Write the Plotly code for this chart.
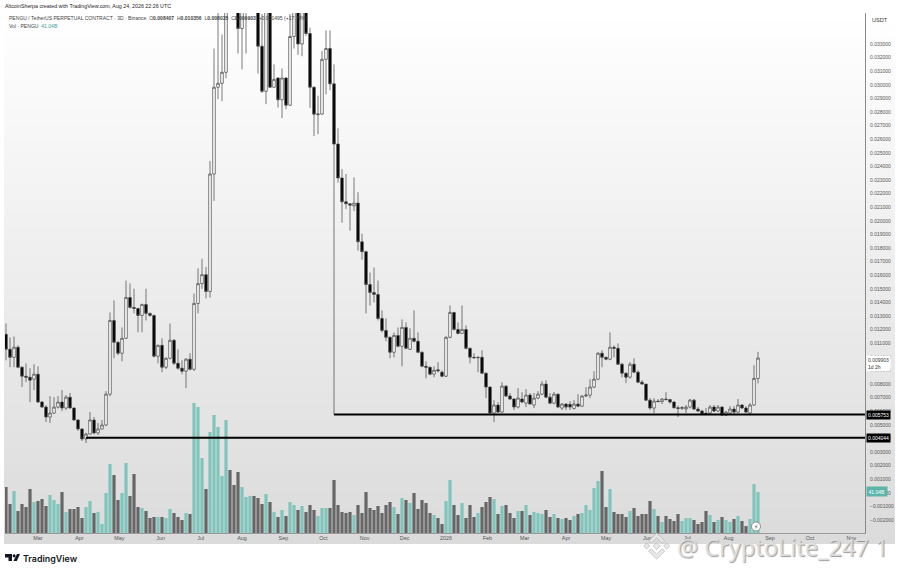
import pandas as pd
import plotly.graph_objects as go

opens = [
    0.01165, 0.01055, 0.00996, 0.01070, 0.00923, 0.00857, 0.00850, 0.00835, 0.00872, 0.00667,
    0.00630, 0.00557, 0.00586, 0.00630, 0.00667, 0.00623, 0.00703, 0.00623, 0.00535, 0.00469,
    0.00396, 0.00432, 0.00535, 0.00440, 0.00469, 0.00498, 0.00725, 0.01267, 0.01106, 0.01026,
    0.01136, 0.01436, 0.01363, 0.01355, 0.01304, 0.01385, 0.01319, 0.01304, 0.01004, 0.01084,
    0.00923, 0.00989, 0.01121, 0.00952, 0.00916, 0.00894, 0.00982, 0.00908, 0.01392, 0.01538,
    0.01604, 0.01480, 0.02344, 0.02982, 0.03011, 0.03092, 0.03750, 0.03700, 0.03640, 0.03414,
    0.03580, 0.03660, 0.03780, 0.03720, 0.03284, 0.02952, 0.03600, 0.02982, 0.03050, 0.02890,
    0.03050, 0.02850, 0.03355, 0.03650, 0.03300, 0.03620, 0.03377, 0.02982, 0.02780, 0.02785,
    0.03187, 0.03267, 0.03007, 0.02564, 0.02315, 0.02140, 0.02125, 0.02110, 0.02130, 0.01846,
    0.01773, 0.01531, 0.01473, 0.01458, 0.01282, 0.01194, 0.01143, 0.01033, 0.01157, 0.01077,
    0.01216, 0.01055, 0.01136, 0.01114, 0.01033, 0.00930, 0.00923, 0.00872, 0.00904, 0.00887,
    0.00857, 0.01143, 0.01326, 0.01201, 0.01172, 0.01201, 0.01062, 0.00996, 0.00993, 0.00996,
    0.00879, 0.00777, 0.00586, 0.00645, 0.00593, 0.00784, 0.00711, 0.00689, 0.00630, 0.00689,
    0.00659, 0.00718, 0.00645, 0.00696, 0.00725, 0.00799, 0.00703, 0.00659, 0.00725, 0.00623,
    0.00652, 0.00650, 0.00620, 0.00652, 0.00637, 0.00711, 0.00718, 0.00777, 0.00835, 0.01026,
    0.00996, 0.00982, 0.01070, 0.01062, 0.00945, 0.00879, 0.00850, 0.00945, 0.00887, 0.00813,
    0.00799, 0.00681, 0.00623, 0.00674, 0.00670, 0.00689, 0.00685, 0.00667, 0.00625, 0.00620,
    0.00616, 0.00630, 0.00681, 0.00615, 0.00601, 0.00585, 0.00586, 0.00630, 0.00601, 0.00630,
    0.00571, 0.00586, 0.00615, 0.00593, 0.00645, 0.00623, 0.00586, 0.00645, 0.008407,
]
highs = [
    0.01245, 0.01143, 0.01150, 0.01084, 0.00930, 0.00952, 0.00916, 0.00945, 0.00930, 0.00675,
    0.00645, 0.00711, 0.00703, 0.00711, 0.00755, 0.00718, 0.00733, 0.00628, 0.00540, 0.00475,
    0.00440, 0.00593, 0.00557, 0.00513, 0.00535, 0.00747, 0.01326, 0.01414, 0.01115, 0.01216,
    0.01560, 0.01540, 0.01500, 0.01360, 0.01390, 0.01500, 0.01325, 0.01310, 0.01090, 0.01136,
    0.00995, 0.01245, 0.01130, 0.01055, 0.00974, 0.00990, 0.01026, 0.01465, 0.01650, 0.01720,
    0.01660, 0.02440, 0.03267, 0.03600, 0.03370, 0.03820, 0.03820, 0.03780, 0.03680, 0.03620,
    0.03700, 0.03820, 0.03840, 0.03760, 0.03520, 0.03640, 0.03640, 0.03150, 0.03055, 0.03120,
    0.03055, 0.03520, 0.03700, 0.03700, 0.03690, 0.03700, 0.03420, 0.02990, 0.02920, 0.03250,
    0.03400, 0.03400, 0.03150, 0.02680, 0.02380, 0.02344, 0.02130, 0.02320, 0.02210, 0.01905,
    0.01780, 0.01619, 0.01656, 0.01560, 0.01341, 0.01282, 0.01150, 0.01179, 0.01216, 0.01275,
    0.01253, 0.01209, 0.01341, 0.01179, 0.01040, 0.00967, 0.00928, 0.00930, 0.00960, 0.00900,
    0.01150, 0.01377, 0.01330, 0.01253, 0.01377, 0.01231, 0.01068, 0.01026, 0.01000, 0.01048,
    0.00885, 0.00782, 0.00681, 0.00667, 0.00813, 0.00791, 0.00733, 0.00696, 0.00769, 0.00740,
    0.00762, 0.00733, 0.00733, 0.00747, 0.00821, 0.00828, 0.00733, 0.00740, 0.00730, 0.00659,
    0.00659, 0.00674, 0.00681, 0.00725, 0.00718, 0.00777, 0.00835, 0.00894, 0.01033, 0.01048,
    0.01000, 0.01179, 0.01084, 0.01099, 0.00955, 0.00885, 0.00960, 0.00989, 0.00900, 0.00828,
    0.00800, 0.00696, 0.00696, 0.00689, 0.00696, 0.00740, 0.00690, 0.00674, 0.00640, 0.00637,
    0.00645, 0.00689, 0.00690, 0.00630, 0.00610, 0.00623, 0.00645, 0.00645, 0.00645, 0.00637,
    0.00601, 0.00637, 0.00637, 0.00689, 0.00652, 0.00637, 0.00659, 0.00938, 0.010356,
]
lows = [
    0.00974, 0.00923, 0.00923, 0.00916, 0.00777, 0.00813, 0.00667, 0.00755, 0.00660, 0.00625,
    0.00520, 0.00513, 0.00580, 0.00620, 0.00600, 0.00608, 0.00620, 0.00530, 0.00455, 0.00381,
    0.00366, 0.00430, 0.00430, 0.00425, 0.00465, 0.00490, 0.00710, 0.00989, 0.01012, 0.00967,
    0.01130, 0.01355, 0.01320, 0.01180, 0.01180, 0.01267, 0.01295, 0.00995, 0.00952, 0.00886,
    0.00910, 0.00980, 0.00940, 0.00905, 0.00872, 0.00769, 0.00900, 0.00895, 0.01319, 0.01500,
    0.01430, 0.01435, 0.02147, 0.02894, 0.02879, 0.03048, 0.03620, 0.03560, 0.03230, 0.03113,
    0.03230, 0.03580, 0.03620, 0.03084, 0.02940, 0.02858, 0.02980, 0.02980, 0.02833, 0.02755,
    0.02820, 0.02845, 0.03267, 0.03220, 0.03210, 0.03360, 0.02830, 0.02623, 0.02637, 0.02780,
    0.02930, 0.02960, 0.005753, 0.02280, 0.01985, 0.02088, 0.01927, 0.02070, 0.01780, 0.01714,
    0.01319, 0.01377, 0.01399, 0.01267, 0.01179, 0.01114, 0.00989, 0.00996, 0.01070, 0.00930,
    0.01055, 0.01050, 0.01106, 0.01026, 0.00923, 0.00842, 0.00864, 0.00850, 0.00885, 0.00850,
    0.00850, 0.01136, 0.01194, 0.01165, 0.01168, 0.01055, 0.00952, 0.00985, 0.00886, 0.00872,
    0.00696, 0.00579, 0.00520, 0.00586, 0.00588, 0.00704, 0.00681, 0.00608, 0.00620, 0.00660,
    0.00630, 0.00650, 0.00623, 0.00689, 0.00718, 0.00696, 0.00652, 0.00650, 0.00623, 0.00608,
    0.00608, 0.00608, 0.00612, 0.00630, 0.00630, 0.00704, 0.00696, 0.00769, 0.00828, 0.00923,
    0.00975, 0.00975, 0.00996, 0.00940, 0.00850, 0.00806, 0.00840, 0.00879, 0.00806, 0.00795,
    0.00674, 0.00608, 0.00586, 0.00667, 0.00652, 0.00681, 0.00655, 0.00620, 0.00557, 0.00608,
    0.00586, 0.00620, 0.00608, 0.00593, 0.00571, 0.00571, 0.00579, 0.00593, 0.00593, 0.00564,
    0.00564, 0.00579, 0.00579, 0.00586, 0.00615, 0.00586, 0.00579, 0.00640, 0.008035,
]
closes = [
    0.01055, 0.00996, 0.01070, 0.00923, 0.00857, 0.00850, 0.00828, 0.00872, 0.00667, 0.00630,
    0.00557, 0.00586, 0.00630, 0.00667, 0.00623, 0.00703, 0.00623, 0.00535, 0.00469, 0.00396,
    0.00432, 0.00535, 0.00440, 0.00469, 0.00498, 0.00725, 0.01267, 0.01106, 0.01026, 0.01136,
    0.01436, 0.01363, 0.01355, 0.01304, 0.01385, 0.01319, 0.01304, 0.01004, 0.01084, 0.00923,
    0.00989, 0.01121, 0.00952, 0.00916, 0.00894, 0.00982, 0.00908, 0.01392, 0.01538, 0.01604,
    0.01480, 0.02344, 0.02982, 0.03011, 0.03092, 0.03750, 0.03700, 0.03640, 0.03414, 0.03580,
    0.03660, 0.03780, 0.03720, 0.03284, 0.02952, 0.03600, 0.02982, 0.03040, 0.02890, 0.03050,
    0.02850, 0.03355, 0.03650, 0.03300, 0.03620, 0.03377, 0.02982, 0.02784, 0.02785, 0.03187,
    0.03267, 0.03007, 0.02564, 0.02315, 0.02140, 0.02125, 0.02115, 0.02130, 0.01846, 0.01773,
    0.01531, 0.01473, 0.01458, 0.01282, 0.01194, 0.01143, 0.01033, 0.01157, 0.01077, 0.01216,
    0.01062, 0.01136, 0.01114, 0.01033, 0.00930, 0.00923, 0.00872, 0.00901, 0.00897, 0.00857,
    0.01143, 0.01326, 0.01201, 0.01172, 0.01201, 0.01062, 0.00996, 0.00993, 0.00996, 0.00879,
    0.00777, 0.00586, 0.00645, 0.00593, 0.00784, 0.00711, 0.00689, 0.00630, 0.00696, 0.00667,
    0.00718, 0.00652, 0.00696, 0.00725, 0.00799, 0.00703, 0.00659, 0.00725, 0.00630, 0.00652,
    0.00630, 0.00630, 0.00652, 0.00637, 0.00711, 0.00718, 0.00777, 0.00835, 0.01026, 0.00996,
    0.00982, 0.01070, 0.01062, 0.00945, 0.00879, 0.00850, 0.00945, 0.00887, 0.00813, 0.00799,
    0.00681, 0.00623, 0.00674, 0.00670, 0.00689, 0.00685, 0.00667, 0.00625, 0.00620, 0.00626,
    0.00630, 0.00681, 0.00615, 0.00601, 0.00579, 0.00580, 0.00630, 0.00601, 0.00630, 0.00571,
    0.00593, 0.00615, 0.00593, 0.00645, 0.00623, 0.00593, 0.00645, 0.008407, 0.009903,
]
# volume per candle, in billions of PENGU
volumes = [
    46, 29, 42, 22, 29, 26, 44, 31, 32, 34,
    27, 38, 33, 29, 41, 21, 24, 24, 26, 15,
    26, 32, 20, 21, 9, 40, 69, 58, 33, 40,
    70, 37, 59, 26, 25, 22, 15, 16, 16, 16,
    15, 24, 20, 16, 13, 20, 19, 130, 126, 75,
    44, 101, 118, 106, 57, 113, 63, 48, 61, 46,
    36, 37, 37, 35, 29, 39, 31, 21, 16, 23,
    17, 31, 28, 23, 27, 21, 28, 23, 17, 25,
    25, 25, 53, 28, 21, 20, 21, 18, 28, 20,
    41, 25, 23, 27, 20, 28, 31, 26, 19, 35,
    33, 30, 40, 24, 33, 30, 20, 18, 15, 9,
    32, 53, 28, 18, 30, 15, 28, 16, 20, 26,
    31, 36, 34, 19, 27, 28, 20, 15, 22, 22,
    28, 18, 21, 20, 19, 23, 16, 19, 15, 14,
    15, 13, 17, 19, 20, 28, 23, 45, 52, 62,
    26, 44, 21, 19, 19, 16, 22, 25, 17, 19,
    19, 32, 24, 17, 11, 17, 14, 12, 19, 12,
    15, 15, 13, 9, 11, 22, 18, 11, 13, 16,
    13, 11, 14, 17, 12, 7, 14, 49, 41.04,
]
dates = pd.date_range("2025-02-05", periods=len(closes), freq="3D")

price_ticks = [
    0.033, 0.032, 0.031, 0.030, 0.029, 0.028, 0.027, 0.026, 0.025, 0.024, 0.023, 0.022,
    0.021, 0.020, 0.019, 0.018, 0.017, 0.016, 0.015, 0.014, 0.013, 0.012, 0.011, 0.010,
    0.009, 0.008, 0.007, 0.006, 0.005, 0.004, 0.003, 0.002, 0.001, 0.0, -0.001, -0.002,
]
month_ticks = [
    "2025-03-01", "2025-04-01", "2025-05-01", "2025-06-01", "2025-07-01", "2025-08-01", "2025-09-01",
    "2025-10-01", "2025-11-01", "2025-12-01", "2026-01-01", "2026-02-01", "2026-03-01", "2026-04-01",
    "2026-05-01", "2026-06-01", "2026-07-01", "2026-08-01", "2026-09-01", "2026-10-01", "2026-11-01",
]
month_labels = [
    "Mar", "Apr", "May", "Jun", "Jul", "Aug", "Sep", "Oct", "Nov", "Dec", "2026",
    "Feb", "Mar", "Apr", "May", "Jun", "Jul", "Aug", "Sep", "Oct", "Nov",
]
level_starts = ["2025-10-09", "2025-04-06"]
level_prices = [0.005753, 0.004044]

W, H = 900, 572
TEAL = "#80c5bb"
GREY = "#676767"
FONT = "Liberation Sans"


def px(x):
    return x / W


def py(y):
    return 1 - y / H


fig = go.Figure()

# panel background, white at the top fading to light grey
fig.add_trace(go.Heatmap(
    x=[0, 1], y=[0, 1], z=[[0, 0], [1, 1]], zsmooth="best", showscale=False, hoverinfo="skip",
    colorscale=[[0, "#dbdbdb"], [1, "#ffffff"]], xaxis="x", yaxis="y",
))

fig.add_trace(go.Bar(
    x=dates, y=volumes, xaxis="x2", yaxis="y2", hoverinfo="skip",
    marker=dict(color=[TEAL if c >= o else GREY for o, c in zip(opens, closes)], line_width=0),
))

fig.add_trace(go.Candlestick(
    x=dates, open=opens, high=highs, low=lows, close=closes, xaxis="x2", yaxis="y3",
    whiskerwidth=0, hoverinfo="skip",
    increasing=dict(fillcolor="#ffffff", line=dict(color="#444444", width=0.7)),
    decreasing=dict(fillcolor="#000000", line=dict(color="#444444", width=0.7)),
))

for start, level in zip(level_starts, level_prices):
    fig.add_trace(go.Scatter(
        x=[start, "2026-11-11 06:00"], y=[level, level], mode="lines", xaxis="x2", yaxis="y3",
        line=dict(color="#000000", width=2), hoverinfo="skip",
    ))

annotations = []


def note(text, x, y, size=5.6, color="#3a3a3a", anchor="left", **kw):
    annotations.append(dict(
        text=text, x=px(x), y=py(y), xref="paper", yref="paper", xanchor=anchor, yanchor="middle",
        showarrow=False, font=dict(family=FONT, size=size, color=color), **kw,
    ))


note("AltcoinSherpa created with TradingView.com, Aug 24, 2026 22:26 UTC", 3, 6, size=5.3, color="#222222")
note(
    "PENGU / TetherUS PERPETUAL CONTRACT · 3D · Binance  O<b>0.008407</b>  H<b>0.010356</b>  "
    "L<b>0.008035</b>  C<b>0.009903</b>  +0.001495 (+17.78%)",
    6.5, 18.5, size=5.05, color="#444444",
)
note("Vol · PENGU  <span style='color:#3f9f92'>41.04B</span>", 6.5, 26, size=5.05, color="#444444")
note("USDT", 870, 20, size=5.6, color="#333333")

# price tags on the right axis
for level in level_prices:
    annotations.append(dict(
        text=f"{level:.6f}", x=px(865.5), y=level, xref="paper", yref="y3", xanchor="left", yanchor="middle",
        showarrow=False, bgcolor="#000000", borderpad=1, font=dict(family=FONT, size=5, color="#ffffff"),
    ))
annotations.append(dict(
    text=f"{closes[-1]:.6f}<br>1d 2h", x=px(865.5), y=closes[-1], xref="paper", yref="y3", xanchor="left",
    yanchor="top", yshift=3, align="left", showarrow=False, bgcolor="#ffffff", borderpad=1,
    font=dict(family=FONT, size=5, color="#333333"),
))
annotations.append(dict(
    text=f"{volumes[-1]:.2f}B", x=px(865.5), y=volumes[-1], xref="paper", yref="y2", xanchor="left",
    yanchor="middle", showarrow=False, bgcolor="#5db5a9", borderpad=1.5,
    font=dict(family=FONT, size=5, color="#ffffff"),
))

note("TradingView", 20.5, 558, size=8.9, color="#131722")
annotations[-1]["font"]["family"] = "Inter"
annotations[-1]["font"]["weight"] = 600

# watermark
note("@ CryptoLite_247 1", 675, 547, size=23.5, color="rgba(226,226,226,0.9)")
annotations[-1]["font"]["family"] = "Noto Sans"
annotations[-1]["font"]["shadow"] = "1px 1px 1px #8f8f8f"

# replay marker at the end of the volume pane
note("⚡", 756, 526.5, size=6, color="#444444", anchor="center")
annotations[-1]["font"]["family"] = "DejaVu Sans"


def path(*points):
    parts = [f"{'M' if i == 0 else 'L'}{px(x):.5f},{py(y):.5f}" for i, (x, y) in enumerate(points)]
    return " ".join(parts) + " Z"


shapes = []


def poly(points, fill, line=None):
    shapes.append(dict(
        type="path", path=path(*points), xref="paper", yref="paper", fillcolor=fill,
        line=dict(color=line or fill, width=0.6 if line else 0),
    ))


# TradingView logo
poly([(5, 554), (12, 554), (12, 561), (8.5, 561), (8.5, 557.5), (5, 557.5)], "#131722")
poly([(17, 554), (20, 554), (16.8, 561), (13.4, 561)], "#131722")
shapes.append(dict(
    type="circle", xref="paper", yref="paper", x0=px(12.6), x1=px(15.6), y0=py(557.4), y1=py(554.2),
    fillcolor="#131722", line_width=0,
))

# Binance mark of the watermark
cx, cy = 656.7, 546
mark = "rgba(232,232,232,0.95)"
edge = "#a8a8a8"
poly([(cx, cy - 3.5), (cx + 3.5, cy), (cx, cy + 3.5), (cx - 3.5, cy)], mark, edge)
poly([(cx - 13, cy), (cx - 10, cy - 3), (cx - 7, cy), (cx - 10, cy + 3)], mark, edge)
poly([(cx + 13, cy), (cx + 10, cy - 3), (cx + 7, cy), (cx + 10, cy + 3)], mark, edge)
poly([(cx, cy - 13), (cx + 8, cy - 5), (cx + 5.5, cy - 2.8), (cx, cy - 8.2), (cx - 5.5, cy - 2.8), (cx - 8, cy - 5)], mark, edge)
poly([(cx, cy + 13), (cx + 8, cy + 5), (cx + 5.5, cy + 2.8), (cx, cy + 8.2), (cx - 5.5, cy + 2.8), (cx - 8, cy + 5)], mark, edge)

# replay button
shapes.append(dict(
    type="circle", xref="paper", yref="paper", x0=px(751.5), x1=px(760.5), y0=py(531), y1=py(522),
    fillcolor="#ffffff", line=dict(color="#666666", width=0.7),
))

fig.update_layout(
    width=W, height=H, margin=dict(l=0, r=0, t=0, b=0), paper_bgcolor="#ffffff",
    plot_bgcolor="rgba(0,0,0,0)", showlegend=False, bargap=0.2, boxgap=0.08, hovermode=False, dragmode=False,
    annotations=annotations, shapes=shapes,
    xaxis=dict(domain=[px(4), px(895)], range=[0, 1], visible=False, fixedrange=True),
    yaxis=dict(domain=[py(544), py(13)], range=[0, 1], visible=False, fixedrange=True),
    xaxis2=dict(
        domain=[px(5), px(865)], anchor="y2", type="date", range=["2025-02-04 06:00", "2026-11-11 06:00"],
        rangeslider=dict(visible=False), tickvals=month_ticks, ticktext=month_labels, showgrid=False,
        showline=True, linecolor="#9a9a9a", linewidth=1, ticks="",
        tickfont=dict(family=FONT, size=5.4, color="#555555"), fixedrange=True,
    ),
    yaxis2=dict(
        domain=[py(533), py(13)], range=[0, 520], visible=False, fixedrange=True, anchor="x2",
    ),
    yaxis3=dict(
        domain=[py(533), py(13)], range=[-0.00296, 0.03528], overlaying="y2", side="right", anchor="x2",
        tickvals=price_ticks, tickformat=".6f", showgrid=False, zeroline=False, showline=True,
        linecolor="#8a8a8a", linewidth=1, ticks="outside", ticklen=3, tickcolor="rgba(0,0,0,0)",
        tickfont=dict(family=FONT, size=5, color="#555555"), fixedrange=True,
    ),
)

fig.write_html("out.html", config={"displayModeBar": False}, post_script="document.body.style.margin='0';")
